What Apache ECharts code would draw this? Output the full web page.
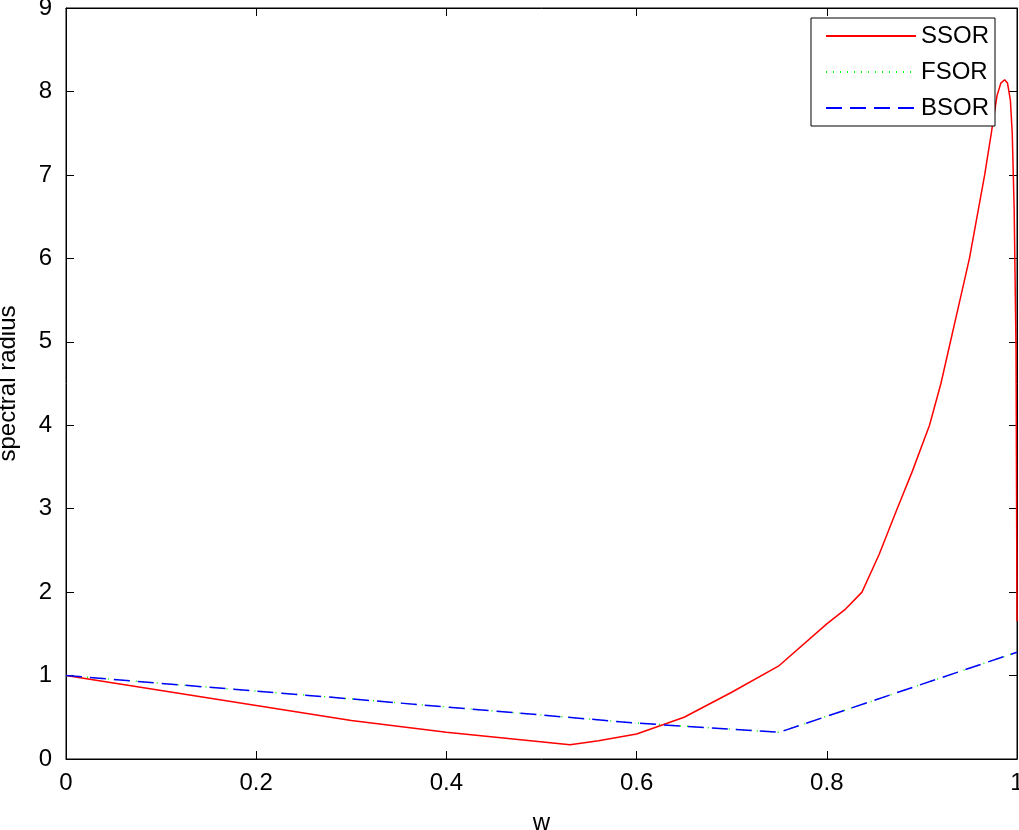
<!DOCTYPE html>
<html>
<head>
<meta charset="utf-8">
<script src="https://cdn.jsdelivr.net/npm/echarts@6/dist/echarts.min.js"></script>
</head>
<body style="margin:0">
<div id="main" style="width:1019px;height:830px;"></div>
<script>
var ssorW = [0, 0.1, 0.2, 0.3, 0.4, 0.53, 0.56, 0.6, 0.65, 0.7, 0.75, 0.8, 0.82, 0.837, 0.855, 0.874, 0.89, 0.908, 0.92, 0.93, 0.94, 0.95, 0.958, 0.966, 0.973, 0.979, 0.983, 0.987, 0.99, 0.993, 0.995, 0.997, 0.999, 1.0];
var ssorV = [1, 0.82, 0.64, 0.46, 0.32, 0.17, 0.22, 0.3, 0.5, 0.8, 1.12, 1.62, 1.8, 2.0, 2.45, 3.0, 3.45, 4.0, 4.5, 5.0, 5.5, 6.0, 6.5, 7.0, 7.5, 7.95, 8.1, 8.14, 8.1, 7.9, 7.5, 6.6, 4.9, 1.65];
var fsorW = [0, 0.3, 0.6, 0.75, 1.0];
var fsorV = [1, 0.72, 0.43, 0.32, 1.28];

function pairs(w, v) { return w.map(function (x, i) { return [x, v[i]]; }); }

var chart = echarts.init(document.getElementById('main'));
var axisCommon = {
    show: true,
    axisLine: { show: true, onZero: false, lineStyle: { color: '#000' } },
    axisTick: { show: true, inside: true, length: 8, lineStyle: { color: '#000' } },
    splitLine: { show: false }
};
chart.setOption({
    animation: false,
    textStyle: { fontFamily: 'Liberation Sans' },
    grid: { left: 66, right: 2, top: 8, bottom: 71, outerBoundsMode: 'none', containLabel: false,
            show: true, borderColor: '#000', borderWidth: 1 },
    legend: {
        right: 24, top: 18, orient: 'vertical',
        data: ['SSOR', 'FSOR', 'BSOR'],
        itemWidth: 90, itemGap: 12,
        itemStyle: { opacity: 0 },
        borderColor: '#000', borderWidth: 1, backgroundColor: '#fff', borderRadius: 0,
        padding: [6, 6, 6, 14],
        textStyle: { fontSize: 24, color: '#000' }
    },
    xAxis: [
        Object.assign({ type: 'value', min: 0, max: 1, interval: 0.2, name: 'w', nameLocation: 'middle', nameGap: 52,
            nameTextStyle: { fontSize: 24, color: '#000' },
            axisLabel: { fontSize: 24, color: '#000', margin: 12 } }, axisCommon),
        Object.assign({ type: 'value', min: 0, max: 1, interval: 0.2, position: 'top', axisLabel: { show: false } }, axisCommon)
    ],
    yAxis: [
        Object.assign({ type: 'value', min: 0, max: 9, interval: 1, name: 'spectral radius', nameLocation: 'middle', nameGap: 46,
            nameTextStyle: { fontSize: 24, color: '#000' },
            axisLabel: { fontSize: 24, color: '#000', margin: 14 } }, axisCommon),
        Object.assign({ type: 'value', min: 0, max: 9, interval: 1, position: 'right', axisLabel: { show: false } }, axisCommon)
    ],
    series: [
        { name: 'SSOR', type: 'line', smooth: false, symbol: 'none', data: pairs(ssorW, ssorV),
          lineStyle: { color: '#ff0000', width: 1.5 }, itemStyle: { color: '#ff0000' } },
        { name: 'FSOR', type: 'line', symbol: 'none', data: pairs(fsorW, fsorV),
          lineStyle: { color: '#00ff00', width: 1.5, type: [1, 6] }, itemStyle: { color: '#00ff00' } },
        { name: 'BSOR', type: 'line', symbol: 'none', data: pairs(fsorW, fsorV),
          lineStyle: { color: '#0000ff', width: 1.5, type: [16, 8] }, itemStyle: { color: '#0000ff' } },
        { type: 'line', xAxisIndex: 1, yAxisIndex: 1, data: [], silent: true }
    ]
});
</script>
</body>
</html>
